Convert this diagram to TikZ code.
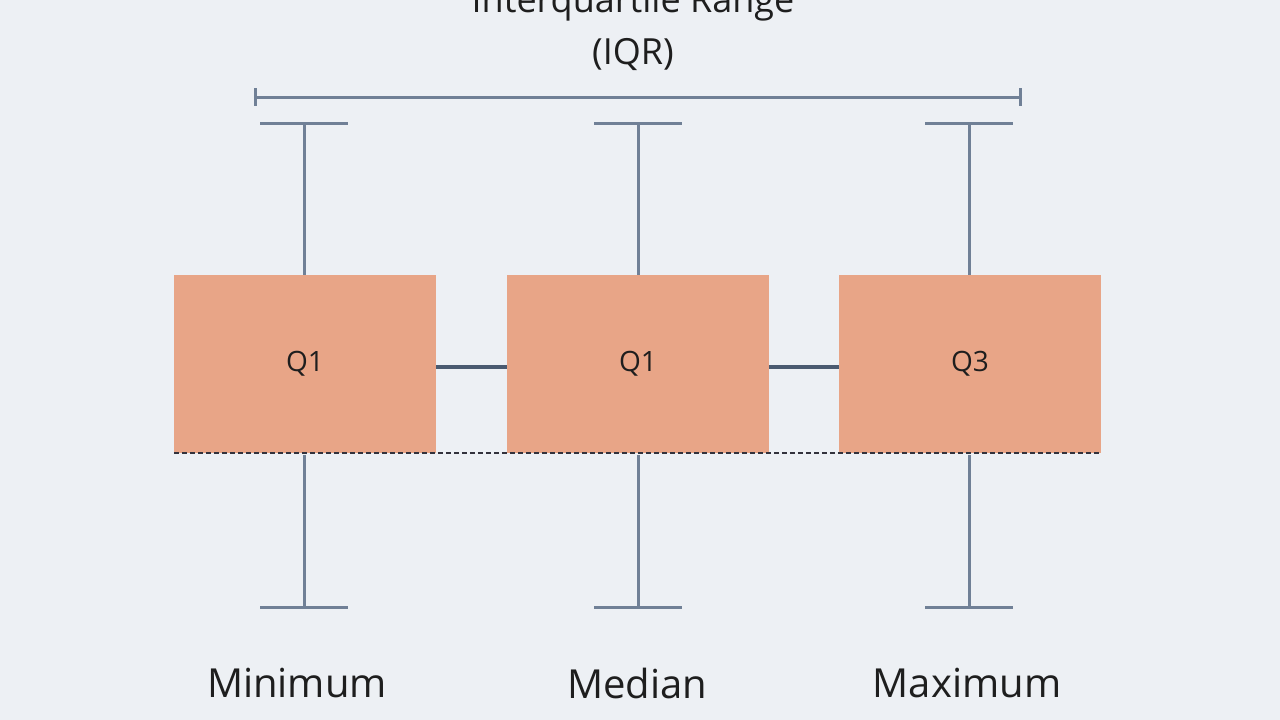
\documentclass[tikz,border=0pt]{standalone}
\usepackage{fontspec}
\setmainfont{Open Sans}
\definecolor{bg}{RGB}{237,240,244}
\definecolor{wh}{RGB}{112,128,150}
\definecolor{bx}{RGB}{232,165,135}
\definecolor{cn}{RGB}{74,90,112}
\definecolor{tx}{RGB}{30,30,30}
\definecolor{ds}{RGB}{50,50,60}
\begin{document}
\begin{tikzpicture}[x=1pt,y=-1pt,
  whisk/.style={draw=wh, line width=3pt},
  qbox/.style={fill=bx, minimum width=262pt, minimum height=178pt, inner sep=0pt, font=\fontsize{28}{30}\selectfont, text=tx},
  conn/.style={line width=4pt, draw=cn},
  lbl/.style={font=\fontsize{40}{44}\selectfont, text=tx}]
\clip (0,0) rectangle (1280,720);
\fill[bg] (0,0) rectangle (1280,720);
% title
\node[lbl, font=\fontsize{36}{38}\selectfont] (t1) at (633,3) {Interquartile Range};
\node[lbl, font=\fontsize{36}{38}\selectfont] (t2) at (633,55) {(IQR)};
% IQR bracket
\coordinate (bl) at (255,97); \coordinate (br) at (1020,97);
\draw[whisk] (bl) -- (br);
\draw[whisk] (255,88) -- (255,106);
\draw[whisk] (1020,88) -- (1020,106);
% whiskers
\foreach \x in {304,638,969}{
  \draw[whisk] (\x-44,123) -- (\x+44,123);
  \draw[whisk] (\x,123) -- (\x,275);
  \draw[whisk] (\x,455) -- (\x,607);
  \draw[whisk] (\x-44,607) -- (\x+44,607);
}
% boxes
\node[qbox] (b1) at (305,364) {Q1};
\node[qbox] (b2) at (638,364) {Q1};
\node[qbox] (b3) at (970,364) {Q3};
\draw[conn] (b1.east |- 0,367) -- (b2.west |- 0,367);
\draw[conn] (b2.east |- 0,367) -- (b3.west |- 0,367);
\draw[dash pattern=on 5pt off 3pt, line width=1.8pt, draw=ds] (b1.south west) -- (b3.south east);
% labels
\node[lbl] (l1) at (297,683) {Minimum};
\node[lbl] (l2) at (637,683) {Median};
\node[lbl] (l3) at (967,683) {Maximum};
\end{tikzpicture}
\end{document}
